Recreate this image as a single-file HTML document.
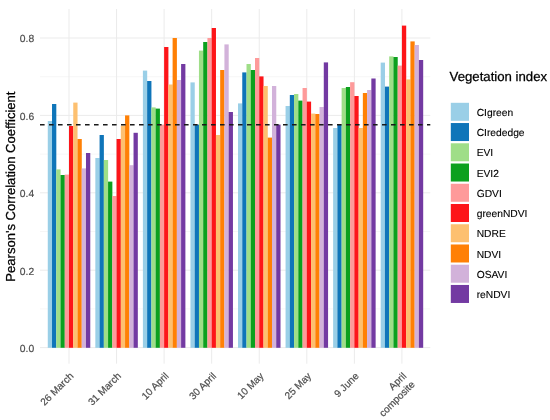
<!DOCTYPE html>
<html><head><meta charset="utf-8"><title>Vegetation index correlation</title>
<style>
html,body{margin:0;padding:0;background:#fff;}
svg{display:block;font-family:"Liberation Sans",sans-serif;text-rendering:geometricPrecision;}
</style></head><body>
<svg width="550" height="420" viewBox="0 0 550 420">
<rect width="550" height="420" fill="#ffffff"/>
<g stroke="#F0F0F0" stroke-width="0.6">
<line x1="40.0" x2="430.3" y1="308.90" y2="308.90"/>
<line x1="40.0" x2="430.3" y1="231.50" y2="231.50"/>
<line x1="40.0" x2="430.3" y1="154.10" y2="154.10"/>
<line x1="40.0" x2="430.3" y1="76.70" y2="76.70"/>
</g>
<g stroke="#EBEBEB" stroke-width="1.0">
<line x1="40.0" x2="430.3" y1="347.60" y2="347.60"/>
<line x1="40.0" x2="430.3" y1="270.20" y2="270.20"/>
<line x1="40.0" x2="430.3" y1="192.80" y2="192.80"/>
<line x1="40.0" x2="430.3" y1="115.40" y2="115.40"/>
<line x1="40.0" x2="430.3" y1="38.00" y2="38.00"/>
<line x1="69.00" x2="69.00" y1="9.0" y2="363.7"/>
<line x1="116.56" x2="116.56" y1="9.0" y2="363.7"/>
<line x1="164.12" x2="164.12" y1="9.0" y2="363.7"/>
<line x1="211.68" x2="211.68" y1="9.0" y2="363.7"/>
<line x1="259.24" x2="259.24" y1="9.0" y2="363.7"/>
<line x1="306.80" x2="306.80" y1="9.0" y2="363.7"/>
<line x1="354.36" x2="354.36" y1="9.0" y2="363.7"/>
<line x1="401.92" x2="401.92" y1="9.0" y2="363.7"/>
</g>
<g shape-rendering="auto">
<rect x="47.77" y="121.00" width="4.29" height="226.80" fill="#9ACFE7"/>
<rect x="52.02" y="104.00" width="4.29" height="243.80" fill="#0F75B9"/>
<rect x="56.27" y="169.40" width="4.29" height="178.40" fill="#9FDE88"/>
<rect x="60.51" y="175.00" width="4.29" height="172.80" fill="#0CA01E"/>
<rect x="64.75" y="174.60" width="4.29" height="173.20" fill="#FE9A9A"/>
<rect x="69.00" y="126.00" width="4.29" height="221.80" fill="#FD1519"/>
<rect x="73.25" y="102.60" width="4.29" height="245.20" fill="#FDC070"/>
<rect x="77.49" y="139.00" width="4.29" height="208.80" fill="#FF8005"/>
<rect x="81.73" y="168.40" width="4.29" height="179.40" fill="#D2B2DA"/>
<rect x="85.98" y="153.00" width="4.29" height="194.80" fill="#733AA2"/>
<rect x="95.34" y="158.00" width="4.29" height="189.80" fill="#9ACFE7"/>
<rect x="99.58" y="135.00" width="4.29" height="212.80" fill="#0F75B9"/>
<rect x="103.83" y="160.00" width="4.29" height="187.80" fill="#9FDE88"/>
<rect x="108.07" y="181.60" width="4.29" height="166.20" fill="#0CA01E"/>
<rect x="112.32" y="196.00" width="4.29" height="151.80" fill="#FE9A9A"/>
<rect x="116.56" y="139.00" width="4.29" height="208.80" fill="#FD1519"/>
<rect x="120.81" y="125.60" width="4.29" height="222.20" fill="#FDC070"/>
<rect x="125.05" y="115.40" width="4.29" height="232.40" fill="#FF8005"/>
<rect x="129.30" y="165.20" width="4.29" height="182.60" fill="#D2B2DA"/>
<rect x="133.54" y="132.80" width="4.29" height="215.00" fill="#733AA2"/>
<rect x="142.90" y="70.60" width="4.29" height="277.20" fill="#9ACFE7"/>
<rect x="147.14" y="81.00" width="4.29" height="266.80" fill="#0F75B9"/>
<rect x="151.39" y="107.40" width="4.29" height="240.40" fill="#9FDE88"/>
<rect x="155.63" y="108.60" width="4.29" height="239.20" fill="#0CA01E"/>
<rect x="159.88" y="124.60" width="4.29" height="223.20" fill="#FE9A9A"/>
<rect x="164.12" y="47.00" width="4.29" height="300.80" fill="#FD1519"/>
<rect x="168.37" y="84.50" width="4.29" height="263.30" fill="#FDC070"/>
<rect x="172.61" y="38.00" width="4.29" height="309.80" fill="#FF8005"/>
<rect x="176.86" y="80.00" width="4.29" height="267.80" fill="#D2B2DA"/>
<rect x="181.10" y="64.00" width="4.29" height="283.80" fill="#733AA2"/>
<rect x="190.46" y="82.40" width="4.29" height="265.40" fill="#9ACFE7"/>
<rect x="194.70" y="124.60" width="4.29" height="223.20" fill="#0F75B9"/>
<rect x="198.95" y="50.60" width="4.29" height="297.20" fill="#9FDE88"/>
<rect x="203.19" y="42.00" width="4.29" height="305.80" fill="#0CA01E"/>
<rect x="207.44" y="38.00" width="4.29" height="309.80" fill="#FE9A9A"/>
<rect x="211.68" y="28.00" width="4.29" height="319.80" fill="#FD1519"/>
<rect x="215.93" y="135.00" width="4.29" height="212.80" fill="#FDC070"/>
<rect x="220.17" y="70.00" width="4.29" height="277.80" fill="#FF8005"/>
<rect x="224.42" y="44.40" width="4.29" height="303.40" fill="#D2B2DA"/>
<rect x="228.66" y="112.00" width="4.29" height="235.80" fill="#733AA2"/>
<rect x="238.02" y="103.40" width="4.29" height="244.40" fill="#9ACFE7"/>
<rect x="242.26" y="72.40" width="4.29" height="275.40" fill="#0F75B9"/>
<rect x="246.51" y="64.00" width="4.29" height="283.80" fill="#9FDE88"/>
<rect x="250.75" y="70.00" width="4.29" height="277.80" fill="#0CA01E"/>
<rect x="255.00" y="58.00" width="4.29" height="289.80" fill="#FE9A9A"/>
<rect x="259.24" y="76.40" width="4.29" height="271.40" fill="#FD1519"/>
<rect x="263.49" y="86.00" width="4.29" height="261.80" fill="#FDC070"/>
<rect x="267.73" y="137.60" width="4.29" height="210.20" fill="#FF8005"/>
<rect x="271.98" y="86.00" width="4.29" height="261.80" fill="#D2B2DA"/>
<rect x="276.22" y="124.60" width="4.29" height="223.20" fill="#733AA2"/>
<rect x="285.57" y="106.00" width="4.29" height="241.80" fill="#9ACFE7"/>
<rect x="289.82" y="95.00" width="4.29" height="252.80" fill="#0F75B9"/>
<rect x="294.06" y="94.00" width="4.29" height="253.80" fill="#9FDE88"/>
<rect x="298.31" y="100.60" width="4.29" height="247.20" fill="#0CA01E"/>
<rect x="302.56" y="88.00" width="4.29" height="259.80" fill="#FE9A9A"/>
<rect x="306.80" y="101.60" width="4.29" height="246.20" fill="#FD1519"/>
<rect x="311.04" y="113.60" width="4.29" height="234.20" fill="#FDC070"/>
<rect x="315.29" y="114.00" width="4.29" height="233.80" fill="#FF8005"/>
<rect x="319.53" y="107.00" width="4.29" height="240.80" fill="#D2B2DA"/>
<rect x="323.78" y="62.40" width="4.29" height="285.40" fill="#733AA2"/>
<rect x="333.13" y="128.00" width="4.29" height="219.80" fill="#9ACFE7"/>
<rect x="337.38" y="124.60" width="4.29" height="223.20" fill="#0F75B9"/>
<rect x="341.62" y="88.00" width="4.29" height="259.80" fill="#9FDE88"/>
<rect x="345.87" y="87.00" width="4.29" height="260.80" fill="#0CA01E"/>
<rect x="350.12" y="82.20" width="4.29" height="265.60" fill="#FE9A9A"/>
<rect x="354.36" y="96.00" width="4.29" height="251.80" fill="#FD1519"/>
<rect x="358.61" y="128.00" width="4.29" height="219.80" fill="#FDC070"/>
<rect x="362.85" y="93.00" width="4.29" height="254.80" fill="#FF8005"/>
<rect x="367.09" y="90.00" width="4.29" height="257.80" fill="#D2B2DA"/>
<rect x="371.34" y="78.50" width="4.29" height="269.30" fill="#733AA2"/>
<rect x="380.69" y="62.60" width="4.29" height="285.20" fill="#9ACFE7"/>
<rect x="384.94" y="86.60" width="4.29" height="261.20" fill="#0F75B9"/>
<rect x="389.19" y="56.40" width="4.29" height="291.40" fill="#9FDE88"/>
<rect x="393.43" y="57.00" width="4.29" height="290.80" fill="#0CA01E"/>
<rect x="397.68" y="65.60" width="4.29" height="282.20" fill="#FE9A9A"/>
<rect x="401.92" y="25.60" width="4.29" height="322.20" fill="#FD1519"/>
<rect x="406.16" y="79.40" width="4.29" height="268.40" fill="#FDC070"/>
<rect x="410.41" y="41.40" width="4.29" height="306.40" fill="#FF8005"/>
<rect x="414.65" y="45.00" width="4.29" height="302.80" fill="#D2B2DA"/>
<rect x="418.90" y="60.00" width="4.29" height="287.80" fill="#733AA2"/>
</g>
<line x1="40.0" x2="430.3" y1="124.7" y2="124.7" stroke="#1a1a1a" stroke-width="1.4" stroke-dasharray="4.6 4.4"/>
<g font-size="10.3" fill="#4D4D4D" stroke="#4D4D4D" stroke-width="0.2" text-anchor="end">
<text x="34.2" y="352.00">0.0</text>
<text x="34.2" y="274.60">0.2</text>
<text x="34.2" y="197.20">0.4</text>
<text x="34.2" y="119.80">0.6</text>
<text x="34.2" y="42.40">0.8</text>
</g>
<text transform="translate(14.5,186.6) rotate(-90)" text-anchor="middle" font-size="13.05" fill="#000" stroke="#000" stroke-width="0.25">Pearson's Correlation Coefficient</text>
<g font-size="10.0" fill="#4D4D4D" stroke="#4D4D4D" stroke-width="0.2" text-anchor="end">
<text transform="translate(74.10,376.60) rotate(-45)">26 March</text>
<text transform="translate(121.66,376.60) rotate(-45)">31 March</text>
<text transform="translate(169.22,376.60) rotate(-45)">10 April</text>
<text transform="translate(216.78,376.60) rotate(-45)">30 April</text>
<text transform="translate(264.34,376.60) rotate(-45)">10 May</text>
<text transform="translate(311.90,376.60) rotate(-45)">25 May</text>
<text transform="translate(359.46,376.60) rotate(-45)">9 June</text>
<text transform="translate(407.02,376.60) rotate(-45)">April</text>
<text transform="translate(415.42,385.00) rotate(-45)">composite</text>
</g>
<text x="449.6" y="80.5" font-size="13.2" fill="#000" stroke="#000" stroke-width="0.25">Vegetation index</text>
<g font-size="10.25" fill="#000" stroke="#000" stroke-width="0.12">
<rect x="450.8" y="102.80" width="18.2" height="18.0" stroke="none" fill="#9ACFE7"/>
<text x="476.7" y="116.00">CIgreen</text>
<rect x="450.8" y="123.04" width="18.2" height="18.0" stroke="none" fill="#0F75B9"/>
<text x="476.7" y="136.24">CIrededge</text>
<rect x="450.8" y="143.28" width="18.2" height="18.0" stroke="none" fill="#9FDE88"/>
<text x="476.7" y="156.48">EVI</text>
<rect x="450.8" y="163.52" width="18.2" height="18.0" stroke="none" fill="#0CA01E"/>
<text x="476.7" y="176.72">EVI2</text>
<rect x="450.8" y="183.76" width="18.2" height="18.0" stroke="none" fill="#FE9A9A"/>
<text x="476.7" y="196.96">GDVI</text>
<rect x="450.8" y="204.00" width="18.2" height="18.0" stroke="none" fill="#FD1519"/>
<text x="476.7" y="217.20">greenNDVI</text>
<rect x="450.8" y="224.24" width="18.2" height="18.0" stroke="none" fill="#FDC070"/>
<text x="476.7" y="237.44">NDRE</text>
<rect x="450.8" y="244.48" width="18.2" height="18.0" stroke="none" fill="#FF8005"/>
<text x="476.7" y="257.68">NDVI</text>
<rect x="450.8" y="264.72" width="18.2" height="18.0" stroke="none" fill="#D2B2DA"/>
<text x="476.7" y="277.92">OSAVI</text>
<rect x="450.8" y="284.96" width="18.2" height="18.0" stroke="none" fill="#733AA2"/>
<text x="476.7" y="298.16">reNDVI</text>
</g>
</svg></body></html>
